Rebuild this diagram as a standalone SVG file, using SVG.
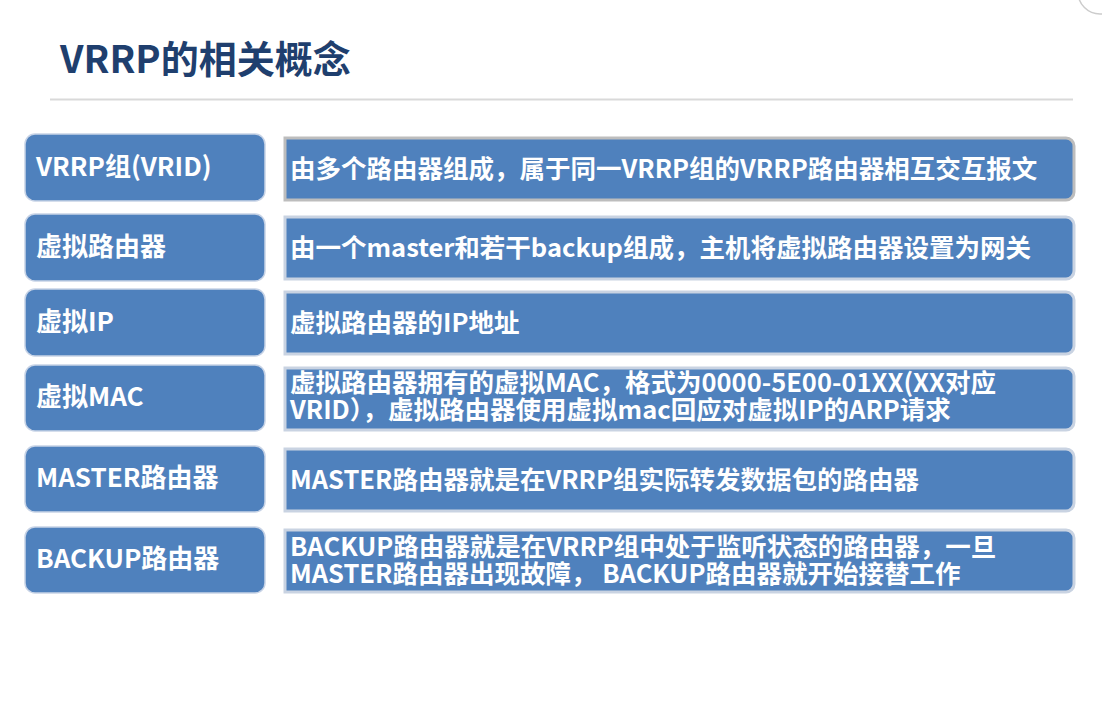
<svg xmlns="http://www.w3.org/2000/svg" width="1102" height="727" viewBox="0 0 1102 727">
<style>
text{font-family:"Noto Sans CJK SC","Liberation Sans",sans-serif;font-weight:bold;fill:#fff;font-size:25.5px}
.k{font-size:26px}
.l{fill:#4F81BD;stroke:#C7D3E6;stroke-width:1.5}
.r{fill:#4F81BD;stroke:#C9D3E2;stroke-width:3}
</style>
<rect width="1102" height="727" fill="#fff"/>
<circle cx="1100" cy="-8" r="22" fill="#fff" stroke="#ccc" stroke-width="1.5"/>
<text x="60" y="73" style="fill:#1F3F6E;font-size:38px">VRRP的相关概念</text>
<line x1="50" y1="99.5" x2="1073" y2="99.5" stroke="#d9d9d9" stroke-width="2"/>
<g id="n1"><rect class="l" x="25" y="134" width="240" height="67" rx="10"/><text class="k" x="36" y="176">VRRP组(VRID)</text>
<path class="r" d="M285 138H1066a8 8 0 0 1 8 8V192a8 8 0 0 1-8 8H285Z" style="stroke:#BDBDBD"/><text x="290" y="178">由多个路由器组成，属于同一VRRP组的VRRP路由器相互交互报文</text></g>
<g id="n2"><rect class="l" x="25" y="214" width="240" height="67" rx="10"/><text class="k" x="36" y="256">虚拟路由器</text>
<path class="r" d="M285 217H1066a8 8 0 0 1 8 8V271a8 8 0 0 1-8 8H285Z"/><text x="290" y="257">由一个master和若干backup组成，主机将虚拟路由器设置为网关</text></g>
<g id="n3"><rect class="l" x="25" y="289" width="240" height="67" rx="10"/><text class="k" x="36" y="331">虚拟IP</text>
<path class="r" d="M285 292H1066a8 8 0 0 1 8 8V346a8 8 0 0 1-8 8H285Z"/><text x="290" y="332">虚拟路由器的IP地址</text></g>
<g id="n4"><rect class="l" x="25" y="365" width="240" height="66" rx="10"/><text class="k" x="36" y="406">虚拟MAC</text>
<path class="r" d="M285 368H1066a8 8 0 0 1 8 8V422a8 8 0 0 1-8 8H285Z"/><text x="290" y="392">虚拟路由器拥有的虚拟MAC，格式为0000-5E00-01XX(XX对应<tspan x="290" dy="27">VRID），虚拟路由器使用虚拟mac回应对虚拟IP的ARP请求</tspan></text></g>
<g id="n5"><rect class="l" x="25" y="446" width="240" height="66" rx="10"/><text class="k" x="36" y="487">MASTER路由器</text>
<path class="r" d="M285 449H1066a8 8 0 0 1 8 8V503a8 8 0 0 1-8 8H285Z"/><text x="290" y="489">MASTER路由器就是在VRRP组实际转发数据包的路由器</text></g>
<g id="n6"><rect class="l" x="25" y="527" width="240" height="66" rx="10"/><text class="k" x="36" y="568">BACKUP路由器</text>
<path class="r" d="M285 530H1066a8 8 0 0 1 8 8V584a8 8 0 0 1-8 8H285Z"/><text x="290" y="556">BACKUP路由器就是在VRRP组中处于监听状态的路由器，一旦<tspan x="290" dy="27">MASTER路由器出现故障， BACKUP路由器就开始接替工作</tspan></text></g>
<g id="connectors"/>
</svg>
